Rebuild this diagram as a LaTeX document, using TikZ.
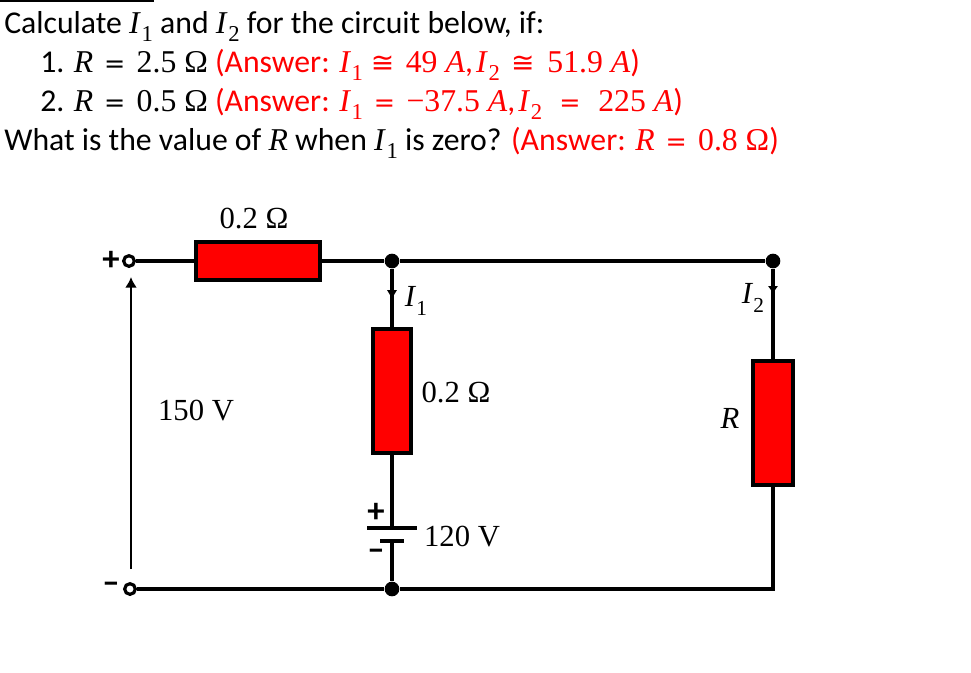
\documentclass[tikz,border=0pt]{standalone}
\usepackage{fontspec}
\setmainfont{Carlito}
\newfontfamily\labelfont{Liberation Serif}
\newfontfamily\symbfont{DejaVu Sans}
\usepackage{xcolor}
\usepackage{tikz}
\usetikzlibrary{arrows.meta}
\definecolor{answerRed}{rgb}{1, 0, 0}
\newcommand{\curlab}[1]{\textit{I}\raisebox{-0.32em}{\fontsize{16}{16}\selectfont #1}}
\newcommand{\mathI}[1]{{\labelfont\textit{I}\hspace{0.02em}\raisebox{-0.26em}{\fontsize{17}{17}\selectfont #1}}}
\newcommand{\mathR}{{\labelfont\textit{R}}}
\newcommand{\mathA}{{\labelfont\textit{A}}}
\newcommand{\num}[1]{{\labelfont #1}}
\newcommand{\rel}[1]{\hspace{0.34em}{\symbfont\fontsize{19}{19}\selectfont #1}\hspace{0.36em}}
\newcommand{\congsym}{\hspace{0.25em}{\symbfont\fontsize{21}{21}\selectfont ≅}\hspace{0.36em}}
\tikzset{
  wire/.style={line width=3.2pt, black},
  thinwire/.style={line width=2.2pt, black},
  resistor/.style={draw=black, fill=red, line width=3.6pt, inner sep=0pt},
  junction/.style={circle, fill=black, inner sep=0pt, minimum size=11pt},
  terminal/.style={circle, draw=black, fill=white, line width=2.4pt, inner sep=0pt, minimum size=8pt},
  plate/.style={fill=black, inner sep=0pt},
  headline/.style={anchor=base west, inner sep=0pt, font=\fontsize{23.8}{23.8}\selectfont},
  partlabel/.style={inner sep=0pt, font=\labelfont\fontsize{23}{23}\selectfont},
  signlabel/.style={inner sep=0pt, font=\fontsize{26}{26}\selectfont\bfseries}
}
\begin{document}
\begin{tikzpicture}[x=0.75pt, y=-0.75pt]
  \useasboundingbox (0,0) rectangle (971,672);
  \fill[white] (0,0) rectangle (971,672);
  \draw[line width=0.9pt] (0,1) -- (154,1);

  \node[headline] (line1) at (4,33) {Calculate \mathI{1} and \mathI{2} for the circuit below, if:};
  \node[headline] (line2) at (40,72) {1.\hspace{0.3em}\mathR\rel{=}\num{2.5 Ω} \textcolor{answerRed}{(Answer: \mathI{1}\congsym\num{49 }\mathA,\hspace{0.1em}\mathI{2}\hspace{0.1em}\congsym\hspace{0.05em}\num{51.9 }\mathA)}};
  \node[headline] (line3) at (40,111) {2.\hspace{0.3em}\mathR\rel{=}\num{0.5 Ω} \textcolor{answerRed}{(Answer: \mathI{1}\rel{=}\num{−37.5 }\mathA,\hspace{0.1em}\mathI{2}\hspace{0.2em}\rel{=}\hspace{0.2em}\num{225 }\mathA)}};
  \node[headline] (line4) at (4,150) {What is the value of \mathR{} when \mathI{1} is zero? \textcolor{answerRed}{(Answer: \mathR\rel{=}\num{0.8 Ω})}};

  \node[terminal] (termP) at (129,261) {};
  \node[terminal] (termN) at (130,589) {};
  \node[junction] (jTL) at (392,261) {};
  \node[junction] (jTR) at (773,261) {};
  \node[junction] (jBL) at (392,589) {};
  \coordinate (cBR) at (773,589);

  \node[resistor, minimum width=93pt, minimum height=28.5pt] (r1) at (258,261) {};
  \node[resistor, minimum width=28.5pt, minimum height=93pt] (r2) at (392,391) {};
  \node[resistor, minimum width=30pt, minimum height=93pt] (r3) at (773,423) {};

  \node[plate, minimum width=37.5pt, minimum height=3pt] (platePos) at (392,528) {};
  \node[plate, minimum width=18pt, minimum height=3pt] (plateNeg) at (392,541) {};

  \draw[wire] (termP) -- (r1);
  \draw[wire] (r1) -- (jTL);
  \draw[wire] (jTL) -- (jTR);
  \draw[wire] (jTL) -- (r2);
  \draw[wire] (jTR) -- (r3);
  \draw[wire] (r2) -- (platePos);
  \draw[wire] (plateNeg) -- (jBL);
  \draw[wire] (termN) -- (jBL);
  \draw[wire] (jBL) -- (cBR);
  \draw[wire, line cap=rect] (r3) -- (cBR);

  % current arrows
  \coordinate (tipA) at (392,300);
  \coordinate (tipB) at (773,294);
  \draw[wire, -{Latex[length=7.5pt, width=8pt]}] (jTL) -- (tipA);
  \draw[wire, -{Latex[length=6pt, width=8pt]}] (jTR) -- (tipB);

  % voltage arrow
  \coordinate (voltA) at (131,569);
  \coordinate (voltB) at (131,277);
  \draw[thinwire, -{Latex[length=8pt, width=9pt]}] (voltA) -- (voltB);

  \node[partlabel] (labR1) at (254,219) {0.2 Ω};
  \node[partlabel] (labR2) at (456,393) {0.2 Ω};
  \node[partlabel] (labV1) at (196,411) {150 V};
  \node[partlabel] (labV2) at (462,537) {120 V};
  \node[partlabel] (labR3) at (730,418) {\textit{R}};
  \node[partlabel] (labI1) at (416,301) {\curlab{1}};
  \node[partlabel] (labI2) at (753,298) {\curlab{2}};

  \node[signlabel] (plusA) at (111,261) {+};
  \node[signlabel] (minusA) at (111,588) {–};
  \node[signlabel] (plusB) at (376,513) {+};
  \node[signlabel] (minusB) at (376,555) {–};
\end{tikzpicture}
\end{document}
